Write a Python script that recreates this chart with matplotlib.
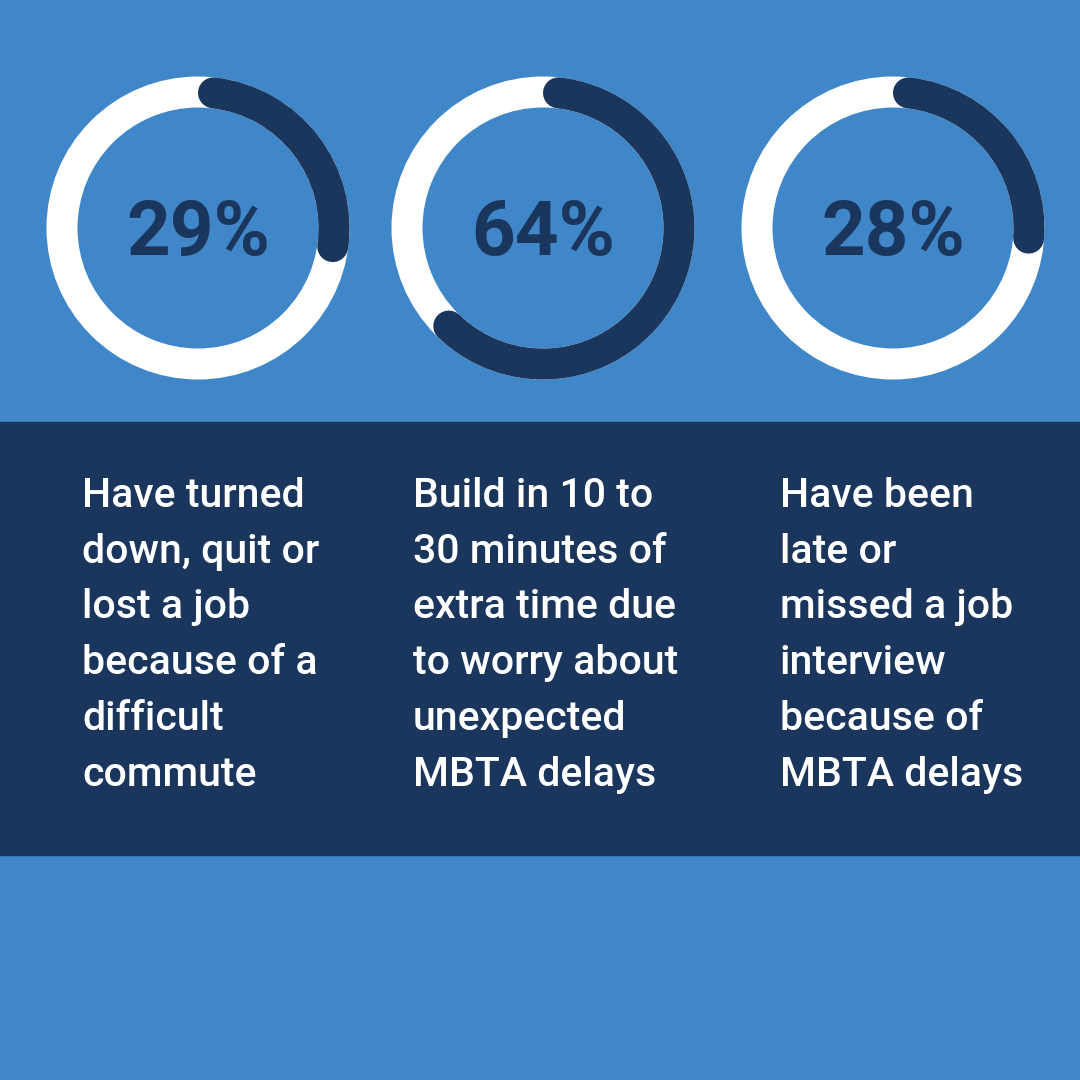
import matplotlib
matplotlib.use("Agg")
import numpy as np
import matplotlib.pyplot as plt
from matplotlib.patches import Arc, Circle, Rectangle

# survey results
percents = [29, 64, 28]
labels = [
    "Have turned\ndown, quit or\nlost a job\nbecause of a\ndifficult\ncommute",
    "Build in 10 to\n30 minutes of\nextra time due\nto worry about\nunexpected\nMBTA delays",
    "Have been\nlate or\nmissed a job\ninterview\nbecause of\nMBTA delays",
]

BG = "#3f87c9"
NAVY = "#1b365d"
W = H = 1080

ring_cx = [198, 543, 893]
label_x = [82, 413, 780]
ring_cy = H - 228
ring_r = 136
ring_px = 31
ring_lw = ring_px * 72 / 100
# round caps sit inside the arc span, so pull both ends in by half the stroke
inset = np.degrees(ring_px / 2 / ring_r)

fig = plt.figure(figsize=(10.8, 10.8), dpi=100)
fig.patch.set_facecolor(BG)
ax = fig.add_axes([0, 0, 1, 1])
ax.set_xlim(0, W); ax.set_ylim(0, H)
ax.set_aspect("equal"); ax.axis("off")

# dark band behind the captions
ax.add_patch(Rectangle((0, H - 855), W, 855 - 422, color=NAVY, zorder=0))

for cx, p, lx, txt in zip(ring_cx, percents, label_x, labels):
    ax.add_patch(Circle((cx, ring_cy), ring_r, fill=False, ec="white", lw=ring_lw, zorder=1))
    arc = Arc((cx, ring_cy), 2 * ring_r, 2 * ring_r, theta1=90 - 3.6 * p + inset,
              theta2=90 - inset, color=NAVY, lw=ring_lw, zorder=2)
    arc.set_capstyle("round")
    ax.add_patch(arc)
    ax.text(cx, ring_cy - 6, f"{p}%", ha="center", va="center", color=NAVY,
            fontsize=55, fontweight="bold", family="Roboto")
    ax.text(lx, H - 477, txt, ha="left", va="top", color="white", fontsize=29.5,
            fontweight="medium", family="Roboto", linespacing=1.59)

fig.savefig("out.png", dpi=100, facecolor=BG)
